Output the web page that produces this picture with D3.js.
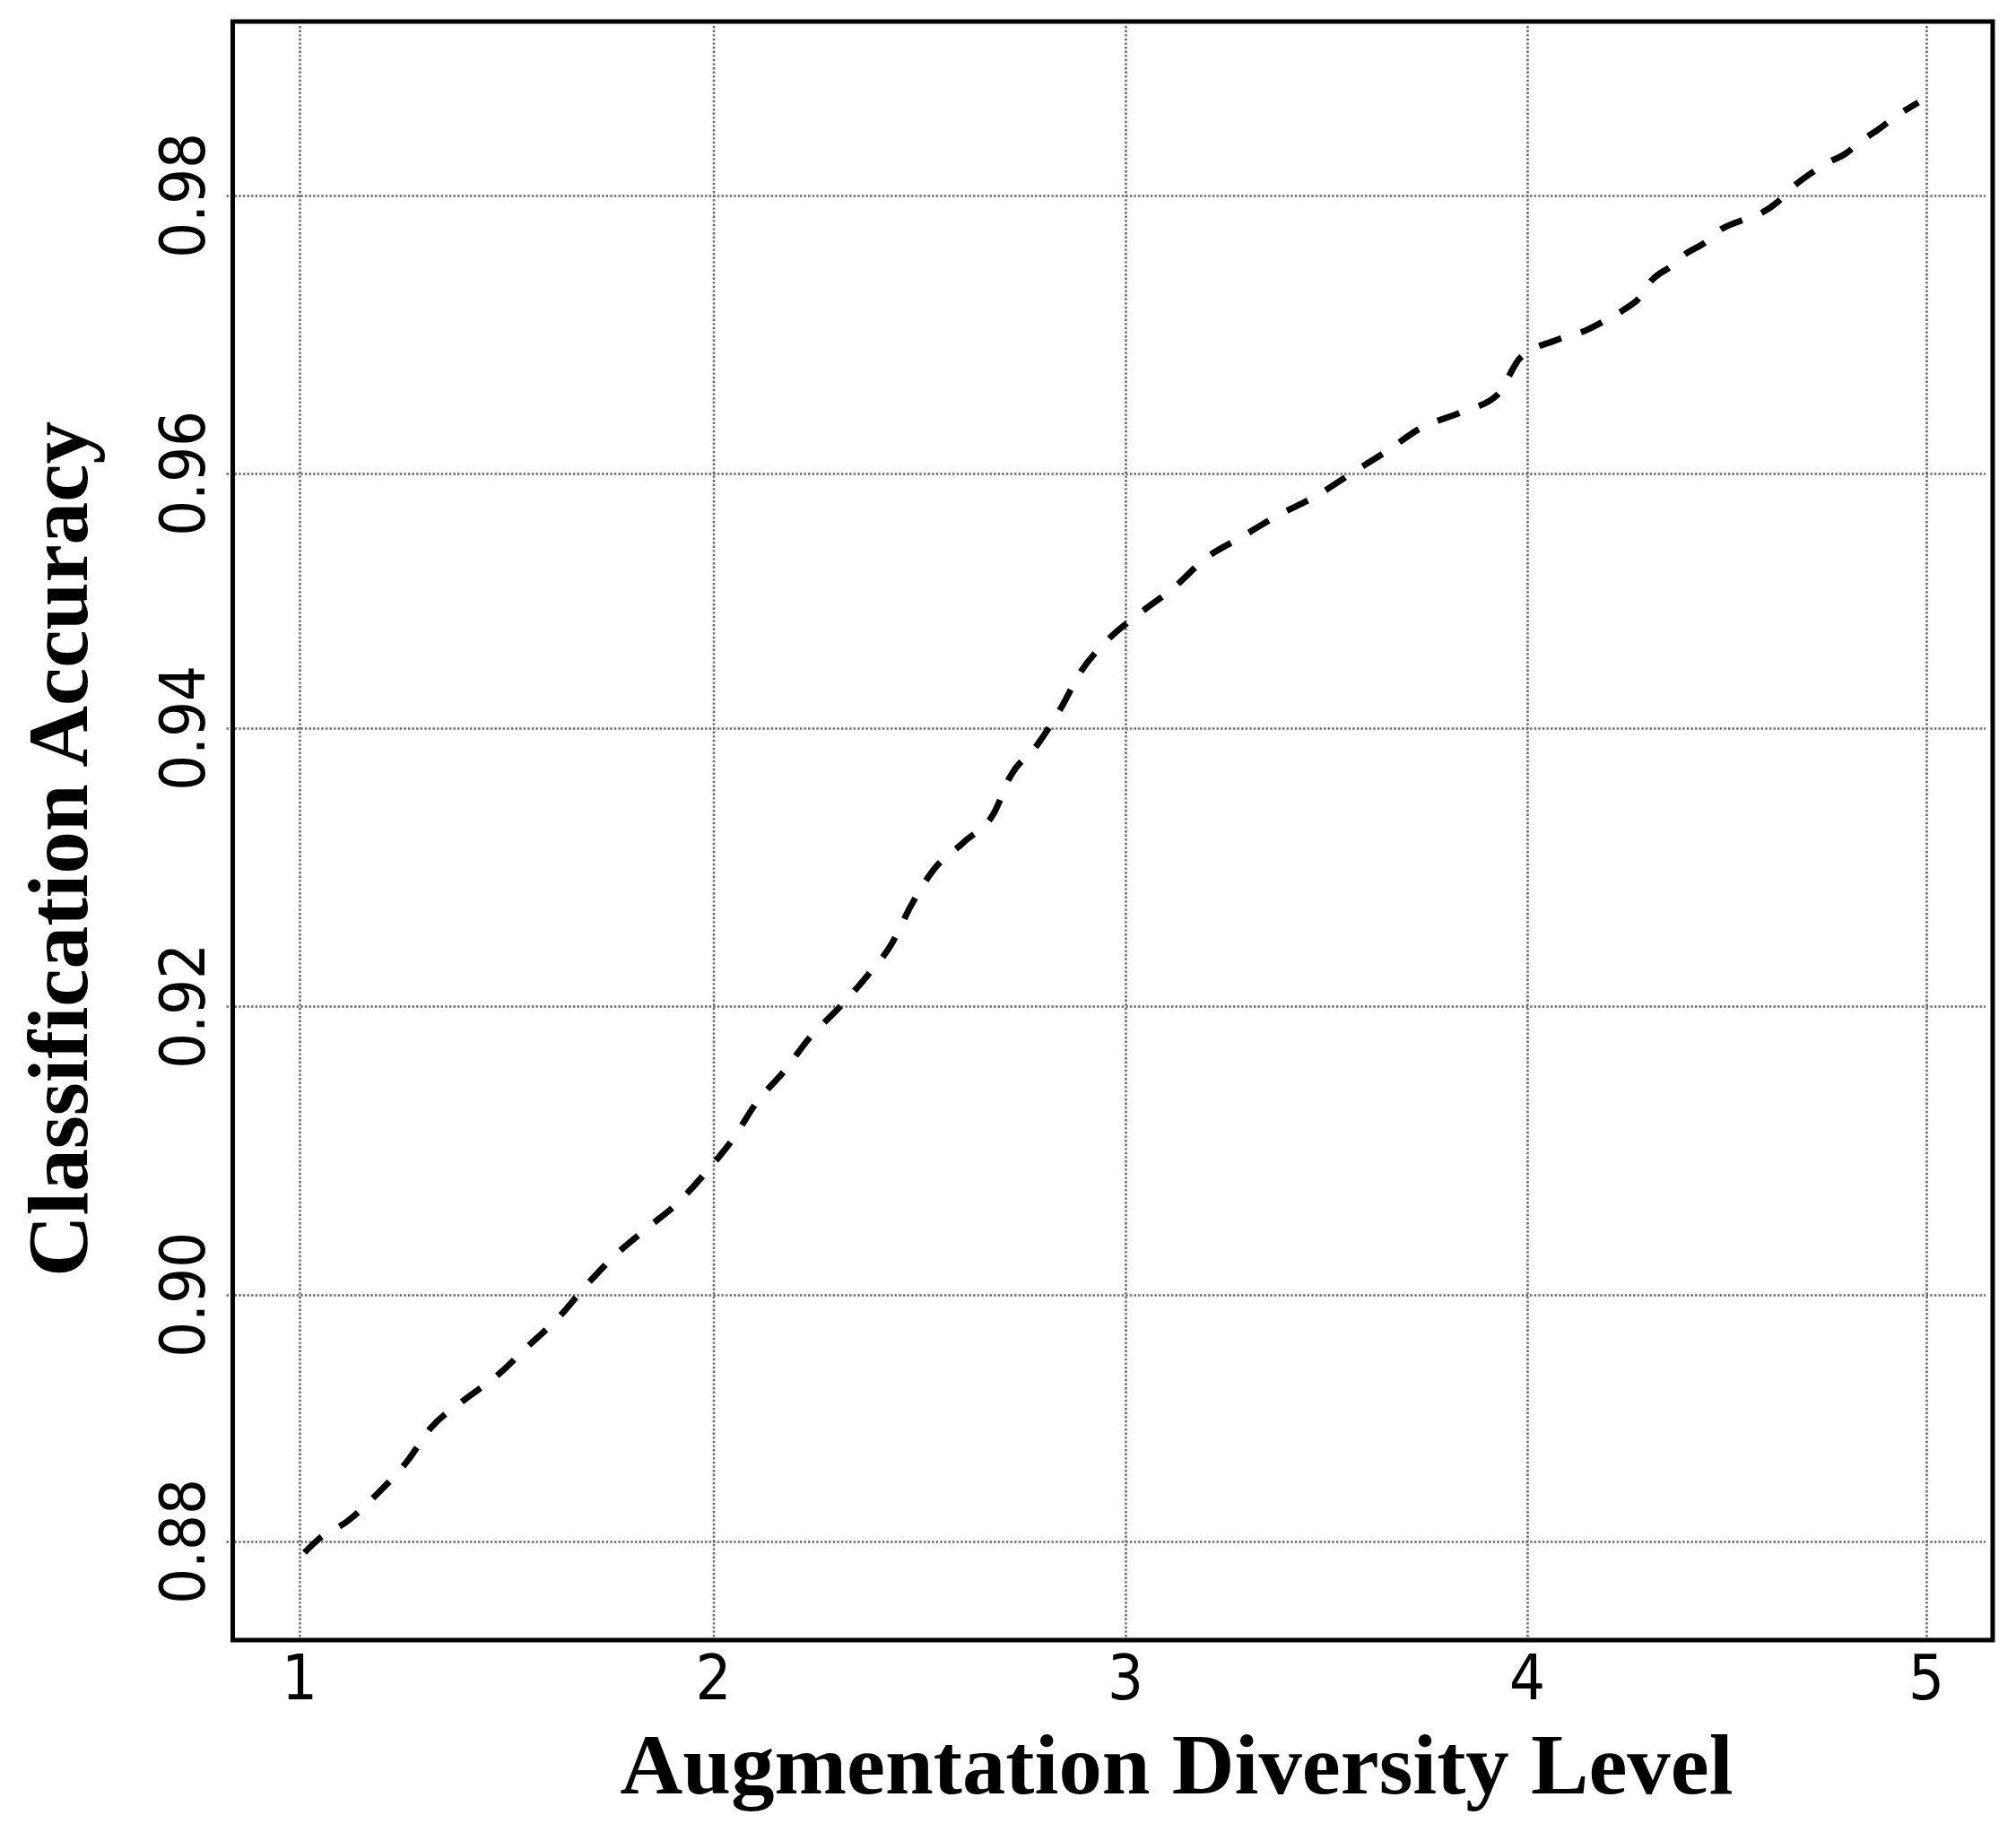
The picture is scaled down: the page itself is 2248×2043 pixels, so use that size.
<!DOCTYPE html>
<html>
<head>
<meta charset="utf-8">
<script src="https://cdn.jsdelivr.net/npm/d3@7"></script>
<style>
  html, body { margin: 0; padding: 0; background: #fff; }
  svg { display: block; }
</style>
</head>
<body>
<div id="chart"></div>
<script>
// data
const xTicks = [1, 2, 3, 4, 5];
const yTicks = [0.88, 0.90, 0.92, 0.94, 0.96, 0.98];
const yTickLabels = ['0.88', '0.90', '0.92', '0.94', '0.96', '0.98'];

const level = [
    1.012, 1.050, 1.114, 1.189, 1.260, 1.317, 1.395, 1.479, 1.554, 1.627,
    1.691, 1.761, 1.839, 1.915, 1.985, 2.050, 2.104, 2.172, 2.233, 2.302,
    2.371, 2.433, 2.479, 2.534, 2.608, 2.681, 2.720, 2.786, 2.842, 2.891,
    2.959, 3.039, 3.123, 3.198, 3.288, 3.379, 3.473, 3.562, 3.650, 3.737,
    3.835, 3.927, 3.982, 4.073, 4.147, 4.195, 4.243, 4.280, 4.312, 4.360,
    4.397, 4.445, 4.482, 4.536, 4.584, 4.626, 4.661, 4.706, 4.749, 4.797,
    4.836, 4.882, 4.924, 4.980
];
const accuracy = [
    0.8791, 0.8803, 0.8816, 0.8839, 0.8865, 0.8892, 0.8914, 0.8935, 0.8959, 0.8982,
    0.9006, 0.9027, 0.9046, 0.9064, 0.9086, 0.9109, 0.9133, 0.9155, 0.9178, 0.9198,
    0.9221, 0.9245, 0.9272, 0.9298, 0.9318, 0.9339, 0.9365, 0.9388, 0.9415, 0.9444,
    0.9470, 0.9491, 0.9511, 0.9533, 0.9550, 0.9567, 0.9582, 0.9600, 0.9616, 0.9633,
    0.9644, 0.9657, 0.9683, 0.9696, 0.9703, 0.9710, 0.9718, 0.9726, 0.9739, 0.9749,
    0.9758, 0.9766, 0.9775, 0.9782, 0.9787, 0.9795, 0.9805, 0.9815, 0.9823, 0.9830,
    0.9839, 0.9848, 0.9857, 0.9867
];

const xTitle = 'Augmentation Diversity Level';
const yTitle = 'Classification Accuracy';

// layout
const width = 2248;
const height = 2043;
const frame = { left: 259.5, right: 2222, top: 24, bottom: 1829 };

// the original figure's gridlines are not evenly spaced, so the scales are piecewise
const x = d3.scaleLinear().domain(xTicks).range([334, 795.5, 1255, 1703, 2148]);
const y = d3.scaleLinear().domain(yTicks).range([1719, 1444, 1122, 812, 528, 218]);

const tickFont = "'DejaVu Sans Condensed', 'DejaVu Sans', sans-serif";
const titleFont = "'Liberation Serif', 'DejaVu Serif', serif";

const svg = d3.select('#chart')
    .append('svg')
    .attr('width', width)
    .attr('height', height)
    .attr('viewBox', `0,0,${width},${height}`);

// horizontal grid (pokes a little out past the left frame)
const hGrid = svg.append('g')
    .attr('transform', `translate(${frame.left - 7},0)`)
    .call(d3.axisLeft(y)
        .tickValues(yTicks)
        .tickSize(-(frame.right - frame.left - 1))
        .tickFormat(''));

// vertical grid
const vGrid = svg.append('g')
    .attr('transform', `translate(0,${frame.top + 5})`)
    .call(d3.axisTop(x)
        .tickValues(xTicks)
        .tickSize(-(frame.bottom - frame.top - 5))
        .tickFormat(''));

[hGrid, vGrid].forEach(g => {
    g.select('.domain').remove();
    g.selectAll('.tick line')
        .attr('stroke', '#666')
        .attr('stroke-width', 2.5)
        .attr('stroke-dasharray', '2.4,2.2');
});

// accuracy curve
const line = d3.line()
    .x(d => x(d[0]))
    .y(d => y(d[1]))
    .curve(d3.curveMonotoneX);

svg.append('path')
    .datum(d3.zip(level, accuracy))
    .attr('d', line)
    .attr('fill', 'none')
    .attr('stroke', '#000')
    .attr('stroke-width', 7)
    .attr('stroke-dasharray', '26,23');

// frame
svg.append('rect')
    .attr('x', frame.left)
    .attr('y', frame.top)
    .attr('width', frame.right - frame.left)
    .attr('height', frame.bottom - frame.top)
    .attr('fill', 'none')
    .attr('stroke', '#000')
    .attr('stroke-width', 5);

// x tick labels
svg.append('g')
    .selectAll('text')
    .data(xTicks)
    .join('text')
    .attr('x', d => x(d))
    .attr('y', 1895)
    .attr('text-anchor', 'middle')
    .style('font-family', tickFont)
    .style('font-size', '70px')
    .text(d => d);

// y tick labels, rotated
svg.append('g')
    .selectAll('text')
    .data(yTicks)
    .join('text')
    .attr('transform', d => `translate(228,${y(d)}) rotate(-90)`)
    .attr('text-anchor', 'middle')
    .style('font-family', tickFont)
    .style('font-size', '70px')
    .text((d, i) => yTickLabels[i]);

// axis titles
svg.append('text')
    .attr('x', 1312)
    .attr('y', 2000)
    .attr('text-anchor', 'middle')
    .attr('textLength', 1241)
    .attr('lengthAdjust', 'spacingAndGlyphs')
    .style('font-family', titleFont)
    .style('font-weight', 'bold')
    .style('font-size', '95px')
    .text(xTitle);

svg.append('text')
    .attr('transform', 'translate(97,947) rotate(-90)')
    .attr('text-anchor', 'middle')
    .attr('textLength', 954)
    .attr('lengthAdjust', 'spacingAndGlyphs')
    .style('font-family', titleFont)
    .style('font-weight', 'bold')
    .style('font-size', '95px')
    .text(yTitle);
</script>
</body>
</html>
